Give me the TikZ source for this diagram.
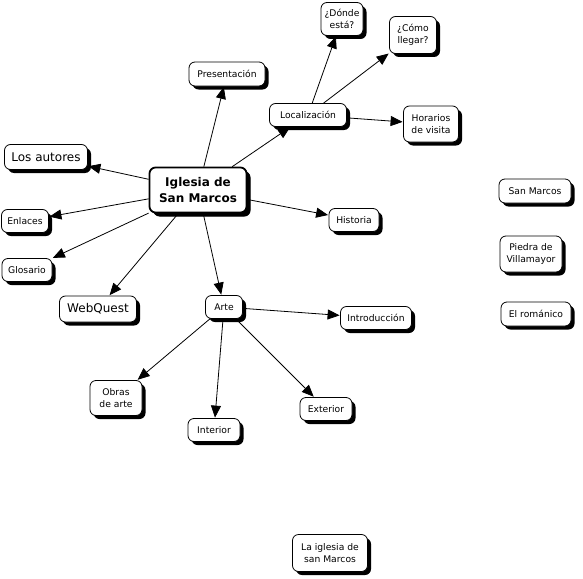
\documentclass[tikz,border=0pt]{standalone}
\usepackage{fontspec}
\setmainfont{DejaVu Sans}
\usetikzlibrary{shadows,arrows.meta}
\tikzset{
  box/.style={draw, line width=0.8pt, rounded corners=6pt, fill=white, align=center,
    inner sep=0pt, font=\fontsize{9.2}{12}\selectfont,
    drop shadow={shadow xshift=3.5pt, shadow yshift=-3.5pt, opacity=1, fill=black}},
  bigbox/.style={box, font=\fontsize{12}{14}\selectfont},
  mainbox/.style={box, line width=1.8pt, font=\bfseries\fontsize{12}{16}\selectfont,
    drop shadow={shadow xshift=4pt, shadow yshift=-4pt, opacity=1, fill=black}},
  link/.style={line width=0.8pt, -{Triangle[length=12pt,width=10pt]}, shorten >=0.5pt}
}
\begin{document}
\begin{tikzpicture}[x=1pt,y=-1pt]
\useasboundingbox[fill=white] (0,0) rectangle (583,578);
\node[mainbox, minimum width=97pt, minimum height=45pt] (igl) at (198,190) {Iglesia de\\San Marcos};
\node[box, minimum width=76pt, minimum height=24pt] (pres) at (227,74) {Presentación};
\node[box, minimum width=77pt, minimum height=23pt] (loc) at (308,115) {Localización};
\node[box, minimum width=42pt, minimum height=33pt] (donde) at (342,19) {¿Dónde\\está?};
\node[box, minimum width=47pt, minimum height=37pt] (como) at (413,35) {¿Cómo\\llegar?};
\node[box, minimum width=55pt, minimum height=36pt] (hor) at (431,124) {Horarios\\de visita};
\node[bigbox, minimum width=83pt, minimum height=25pt] (aut) at (46,157) {Los autores};
\node[box, minimum width=47pt, minimum height=23pt] (enl) at (25,221) {Enlaces};
\node[box, minimum width=50pt, minimum height=23pt] (glo) at (27,270) {Glosario};
\node[bigbox, minimum width=77pt, minimum height=26pt] (wq) at (98,309) {WebQuest};
\node[box, minimum width=50pt, minimum height=23pt] (his) at (354,220) {Historia};
\node[box, minimum width=37pt, minimum height=23pt] (arte) at (224,307) {Arte};
\node[box, minimum width=71pt, minimum height=23pt] (intro) at (376,318) {Introducción};
\node[box, minimum width=52pt, minimum height=35pt] (obras) at (116,398) {Obras\\de arte};
\node[box, minimum width=52pt, minimum height=23pt] (int) at (214,430) {Interior};
\node[box, minimum width=52pt, minimum height=23pt] (ext) at (326,409) {Exterior};
\node[box, minimum width=72pt, minimum height=24pt] (sm) at (535,191) {San Marcos};
\node[box, minimum width=62pt, minimum height=36pt] (pie) at (531,254) {Piedra de\\Villamayor};
\node[box, minimum width=70pt, minimum height=24pt] (rom) at (536,314) {El románico};
\node[box, minimum width=75pt, minimum height=37pt] (lai) at (330,553) {La iglesia de\\san Marcos};
\foreach \t in {pres,loc,aut,enl,glo,wq,his,arte}
  \draw[link] (igl) -- (\t);
\foreach \t in {donde,como,hor}
  \draw[link] (loc) -- (\t);
\foreach \t in {intro,obras,int,ext}
  \draw[link] (arte) -- (\t);
\end{tikzpicture}
\end{document}
